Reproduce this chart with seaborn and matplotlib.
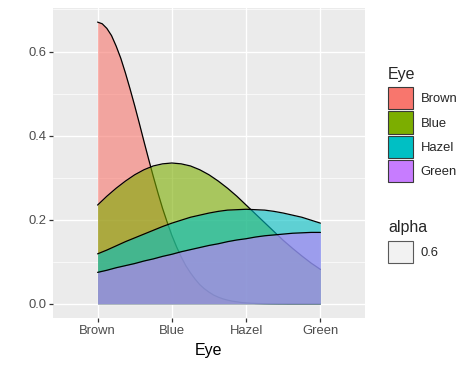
import numpy as np
import pandas as pd
import seaborn as sns
import matplotlib.pyplot as plt
import matplotlib.patches as mpatches

eyes = ["Brown", "Blue", "Hazel", "Green"]
colors = ["#F8766D", "#7CAE00", "#00BFC4", "#C77CFF"]
x_fine = np.linspace(1, 4, 49)    # Brown is read on a finer grid (sharp peak)
x_pos = np.linspace(1, 4, 25)

brown = [0.670, 0.666, 0.655, 0.638, 0.613, 0.584, 0.549, 0.511, 0.471, 0.429,
         0.386, 0.344, 0.303, 0.264, 0.227, 0.194, 0.163, 0.136, 0.112, 0.091,
         0.074, 0.059, 0.046, 0.036, 0.028, 0.021, 0.016, 0.012, 0.009, 0.0065,
         0.005, 0.0033, 0.0024, 0.0016, 0.0011, 0.0008, 0.0005, 0.0003, 0.0002, 0.0001,
         0.0001, 0.0, 0.0, 0.0, 0.0, 0.0, 0.0, 0.0, 0.0]
blue = [0.235, 0.256, 0.275, 0.292, 0.307, 0.319, 0.328, 0.333, 0.335, 0.333,
        0.328, 0.319, 0.307, 0.292, 0.275, 0.256, 0.235, 0.214, 0.193, 0.172,
        0.151, 0.132, 0.114, 0.097, 0.082]
hazel = [0.119, 0.128, 0.138, 0.148, 0.157, 0.166, 0.175, 0.184, 0.192, 0.199,
         0.206, 0.211, 0.216, 0.220, 0.223, 0.224, 0.225, 0.224, 0.223, 0.220,
         0.216, 0.211, 0.206, 0.199, 0.192]
green = [0.075, 0.080, 0.086, 0.091, 0.096, 0.102, 0.107, 0.113, 0.118, 0.124,
         0.129, 0.134, 0.139, 0.143, 0.148, 0.152, 0.155, 0.159, 0.162, 0.164,
         0.166, 0.168, 0.169, 0.170, 0.170]

df = pd.concat([
    pd.DataFrame({"x": x_fine, "density": brown, "Eye": "Brown"}),
    pd.DataFrame({"x": x_pos, "density": blue, "Eye": "Blue"}),
    pd.DataFrame({"x": x_pos, "density": hazel, "Eye": "Hazel"}),
    pd.DataFrame({"x": x_pos, "density": green, "Eye": "Green"}),
])

sns.set_theme(style="darkgrid", rc={"axes.facecolor": "#EBEBEB", "grid.color": "white"})
plt.rcParams["font.family"] = ["Liberation Sans", "DejaVu Sans"]

fig = plt.figure(figsize=(4.74, 3.66), dpi=100)
ax = fig.add_axes([53 / 474, 1 - 318 / 366, 312 / 474, 310 / 366])

for i, (eye, c) in enumerate(zip(eyes, colors)):
    sub = df[df["Eye"] == eye]
    ax.fill_between(sub["x"], 0, sub["density"], color=c, alpha=0.6, lw=0, zorder=3 + 2 * i)
    sns.lineplot(data=sub, x="x", y="density", color="black", lw=0.9,
                 estimator=None, legend=False, zorder=4 + 2 * i, ax=ax)

ax.set_xlim(0.4, 4.6)
ax.set_ylim(-0.0335, 0.7035)
ax.set_xticks([1, 2, 3, 4], eyes)
ax.set_yticks([0, 0.2, 0.4, 0.6], ["0.0", "0.2", "0.4", "0.6"])
ax.set_yticks([0.1, 0.3, 0.5, 0.7], minor=True)
ax.grid(which="major", color="white", lw=1.0)
ax.grid(which="minor", axis="y", color="white", lw=0.5)
ax.set_axisbelow(True)
for s in ax.spines.values():
    s.set_visible(False)
ax.tick_params(which="major", length=3, width=0.9, color="#333333", pad=2,
               labelsize=9.4, labelcolor="#4D4D4D", bottom=True, left=True)
ax.tick_params(which="minor", length=0)
ax.set_xlabel("Eye", fontsize=11.5, color="black", labelpad=4)
ax.set_ylabel("")

# legends (titles placed as text so the gaps match ggplot)
leg_kw = dict(loc="upper left", frameon=False, fontsize=9.4, handlelength=1.91,
              handleheight=2.27, labelspacing=0.14, handletextpad=0.6,
              borderpad=0, borderaxespad=0)
fig.text(388 / 474, 1 - 79 / 366, "Eye", fontsize=11.5, va="baseline", ha="left")
h1 = [mpatches.Patch(facecolor=c, edgecolor="#3a3a3a", lw=0.8) for c in colors]
fig.legend(h1, eyes, bbox_to_anchor=(388 / 474, 1 - 87 / 366), **leg_kw)

fig.text(388 / 474, 1 - 232 / 366, "alpha", fontsize=11.5, va="baseline", ha="left")
h2 = [mpatches.Patch(facecolor="#F2F2F2", edgecolor="#5a5a5a", lw=0.8)]
fig.legend(h2, ["0.6"], bbox_to_anchor=(388 / 474, 1 - 241 / 366), **leg_kw)

fig.savefig("out.png", dpi=100)
